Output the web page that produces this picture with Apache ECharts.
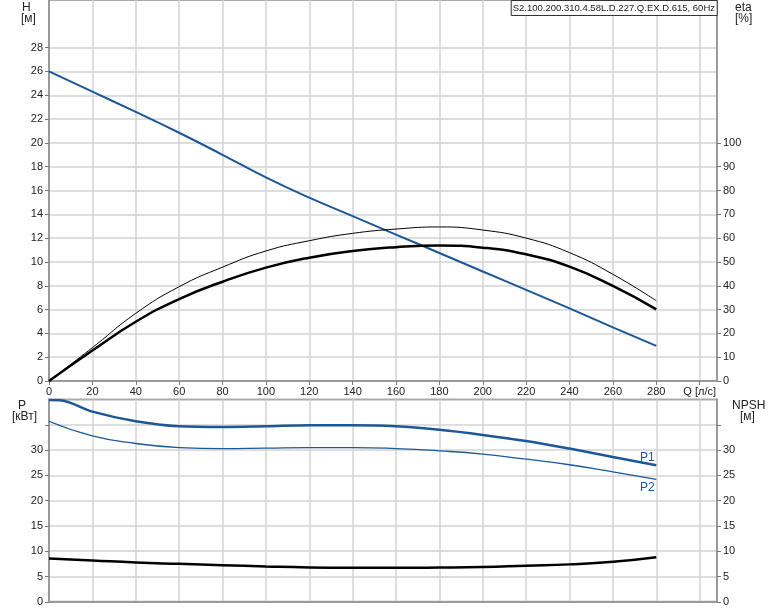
<!DOCTYPE html>
<html>
<head>
<meta charset="utf-8">
<script src="https://cdn.jsdelivr.net/npm/echarts@6/dist/echarts.min.js"></script>
<style>html,body{margin:0;padding:0;background:#fff}#c{width:774px;height:611px}</style>
</head>
<body>
<div id="c"></div>
<script>
// ---- data ----
var Q = [0,20,40,60,80,100,120,140,160,180,200,220,240,260,280];
var H = [26.0,24.3,22.6,20.85,19.0,17.1,15.4,13.85,12.3,10.75,9.2,7.65,6.1,4.5,2.95];
var etaUpper = [0,14.0,28.4,39.6,47.8,54.6,58.9,62.0,63.8,64.7,63.4,60.0,53.9,44.8,33.7];
var etaLower = [0,12.8,24.9,34.4,41.7,47.6,51.8,54.6,56.2,56.9,56.0,53.2,48.0,39.9,30.1];
var qP1 = [0,5,20,40,60,80,100,120,140,160,180,200,220,240,260,280];
var P1 = [39.9,39.85,37.6,35.7,34.7,34.55,34.7,34.9,34.9,34.7,34.0,33.0,31.8,30.3,28.65,27.0];
var P2 = [35.7,32.8,31.3,30.5,30.3,30.4,30.5,30.5,30.3,29.85,29.2,28.2,27.1,25.7,24.2];
var NPSH = [8.57,8.17,7.77,7.5,7.25,6.98,6.78,6.72,6.72,6.78,6.9,7.15,7.4,7.9,8.8];
var xTicks = [0,20,40,60,80,100,120,140,160,180,200,220,240,260,280,300];
var hTicks = [0,2,4,6,8,10,12,14,16,18,20,22,24,26,28];
var etaTicks = [0,10,20,30,40,50,60,70,80,90,100];
var pTicks = [0,5,10,15,20,25,30,35];
var pLabels = [0,5,10,15,20,25,30];
var titleText = 'S2.100.200.310.4.58L.D.227.Q.EX.D.615, 60Hz';

function pairs(xs, ys){ return xs.map(function(x,i){return [x, ys[i]];}); }
var FONT = '"Liberation Sans", Arial, sans-serif';
var BLUE = '#1c5896';
var axisLine = {show:true, lineStyle:{color:'#9a9a9a', width:2}};
function tick(vals){ return {show:true, length:4, customValues:vals, lineStyle:{color:'#777'}}; }
var gridLine = {show:true, lineStyle:{color:'#d3d3d3', width:1.5}};
function lab(vals, extra){
  return Object.assign({color:'#222', fontSize:11, fontFamily:FONT, margin:6, customValues:vals}, extra||{});
}
function endMark(x, y, text, off){
  return {symbol:'circle', symbolSize:1, silent:true, itemStyle:{color:'rgba(0,0,0,0)'},
    label:{show:true, formatter:text, position:'inside', offset:off, color:BLUE, fontSize:12, fontFamily:FONT},
    data:[{coord:[x,y]}]};
}

var chart = echarts.init(document.getElementById('c'), null, {renderer:'canvas'});
chart.setOption({
  animation:false,
  backgroundColor:'#fff',
  title:{text:titleText, right:57, top:0, padding:[3,2,3,2], borderColor:'#333', borderWidth:1, backgroundColor:'#fff',
    textStyle:{fontSize:9.5, fontWeight:'normal', color:'#222', fontFamily:FONT}},
  grid:[
    {left:49, top:0, width:668, height:381, show:true, borderColor:'#aaa', borderWidth:2},
    {left:49, top:399.5, width:668, height:202.3, show:true, borderColor:'#aaa', borderWidth:2}
  ],
  xAxis:[
    {gridIndex:0, type:'value', min:0, max:308, interval:20, axisLine:axisLine, axisTick:tick(xTicks), splitLine:gridLine,
     axisLabel:lab(xTicks, {margin:5, formatter:function(v){return v===300?'Q [л/с]':String(v);}})},
    {gridIndex:1, type:'value', min:0, max:308, interval:20, axisLine:axisLine, axisTick:{show:false}, splitLine:gridLine,
     axisLabel:{show:false}}
  ],
  yAxis:[
    {gridIndex:0, type:'value', min:0, max:32, interval:2, axisLine:axisLine, axisTick:tick(hTicks), splitLine:gridLine,
     axisLabel:lab(hTicks)},
    {gridIndex:0, type:'value', position:'right', min:0, max:160, interval:10, axisLine:axisLine, axisTick:tick(etaTicks), splitLine:{show:false},
     axisLabel:lab(etaTicks)},
    {gridIndex:1, type:'value', min:0, max:40, interval:5, axisLine:axisLine, axisTick:tick(pTicks), splitLine:gridLine,
     axisLabel:lab(pLabels)},
    {gridIndex:1, type:'value', position:'right', min:0, max:40, interval:5, axisLine:axisLine, axisTick:tick(pTicks), splitLine:{show:false},
     axisLabel:lab(pLabels)}
  ],
  series:[
    {name:'H', type:'line', xAxisIndex:0, yAxisIndex:0, data:pairs(Q,H), smooth:true, symbol:'none', lineStyle:{color:BLUE, width:2}},
    {name:'eta1', type:'line', xAxisIndex:0, yAxisIndex:1, data:pairs(Q,etaUpper), smooth:true, symbol:'none', lineStyle:{color:'#000', width:1}},
    {name:'eta2', type:'line', xAxisIndex:0, yAxisIndex:1, data:pairs(Q,etaLower), smooth:true, symbol:'none', lineStyle:{color:'#000', width:2.5}},
    {name:'P1', type:'line', xAxisIndex:1, yAxisIndex:2, data:pairs(qP1,P1), smooth:0.35, symbol:'none', lineStyle:{color:BLUE, width:2.5},
     markPoint:endMark(qP1[qP1.length-1], P1[P1.length-1], 'P1', [-9,-8])},
    {name:'P2', type:'line', xAxisIndex:1, yAxisIndex:2, data:pairs(Q,P2), smooth:true, symbol:'none', lineStyle:{color:BLUE, width:1.3},
     markPoint:endMark(Q[Q.length-1], P2[P2.length-1], 'P2', [-9,8])},
    {name:'NPSH', type:'line', xAxisIndex:1, yAxisIndex:3, data:pairs(Q,NPSH), smooth:true, symbol:'none', lineStyle:{color:'#000', width:2.5}}
  ],
  graphic:[
    {type:'text', left:22, top:2, style:{text:'H', font:'12px '+FONT, fill:'#222'}},
    {type:'text', left:21, top:13, style:{text:'[м]', font:'12px '+FONT, fill:'#222'}},
    {type:'text', left:735, top:2, style:{text:'eta', font:'12px '+FONT, fill:'#222'}},
    {type:'text', left:735, top:13, style:{text:'[%]', font:'12px '+FONT, fill:'#222'}},
    {type:'text', left:18, top:400, style:{text:'P', font:'12px '+FONT, fill:'#222'}},
    {type:'text', left:12, top:411, style:{text:'[кВт]', font:'12px '+FONT, fill:'#222'}},
    {type:'text', left:732, top:400, style:{text:'NPSH', font:'12px '+FONT, fill:'#222'}},
    {type:'text', left:740, top:411, style:{text:'[м]', font:'12px '+FONT, fill:'#222'}}
  ]
});
</script>
</body>
</html>
